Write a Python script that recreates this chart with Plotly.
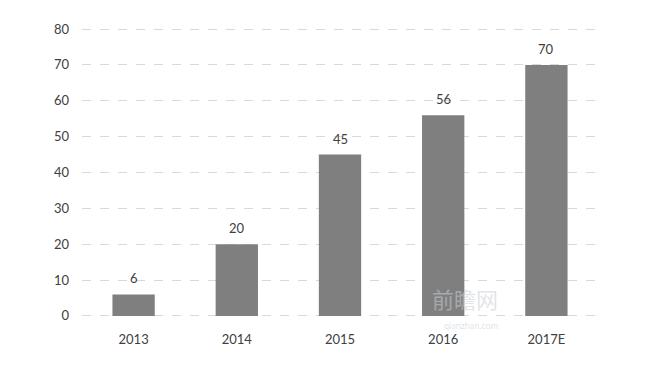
import plotly.graph_objects as go

categories = ["2013", "2014", "2015", "2016", "2017E"]
values = [6, 20, 45, 56, 70]
y_ticks = [0, 10, 20, 30, 40, 50, 60, 70, 80]

font_family = "Lato, 'DejaVu Sans', sans-serif"

fig = go.Figure()
fig.add_trace(go.Bar(
    x=categories, y=values,
    marker=dict(color="#7f7f7f", line=dict(width=0)),
    cliponaxis=False,
))

for i, v in enumerate(values):
    fig.add_annotation(
        x=i, y=v, text=str(v), showarrow=False,
        yanchor="bottom", yshift=6,
        font=dict(size=13, color="#404040", family=font_family),
    )

fig.update_layout(
    width=648, height=365,
    margin=dict(l=82, r=50, t=28, b=48),
    paper_bgcolor="white", plot_bgcolor="white",
    bargap=0.59,
    showlegend=False,
    font=dict(family=font_family, size=13, color="#404040"),
    xaxis=dict(type="category", categoryorder="array", categoryarray=categories,
               range=[-0.5, len(categories) - 0.5],
               showgrid=False, showline=False, zeroline=False,
               ticks="", tickfont=dict(size=13, color="#404040"),
               ticklabelstandoff=13),
    yaxis=dict(range=[-0.3, 80.3], tickvals=y_ticks, showgrid=True,
               gridcolor="#d9d9d9", griddash="dash", gridwidth=1,
               zeroline=False, showline=False, ticks="",
               tickfont=dict(size=13, color="#404040"),
               ticklabelstandoff=12),
)

fig.add_annotation(
    x=0.81, y=0.065, xref="paper", yref="paper", yanchor="middle",
    text="前瞻网", showarrow=False,
    font=dict(size=22, color="rgba(200,205,215,0.55)", family="Noto Sans CJK SC"),
)
fig.add_annotation(
    x=0.81, y=-0.03, xref="paper", yref="paper", yanchor="middle",
    text="qianzhan.com", showarrow=False,
    font=dict(size=9, color="rgba(200,205,215,0.55)", family=font_family),
)

fig.write_html("out.html")
